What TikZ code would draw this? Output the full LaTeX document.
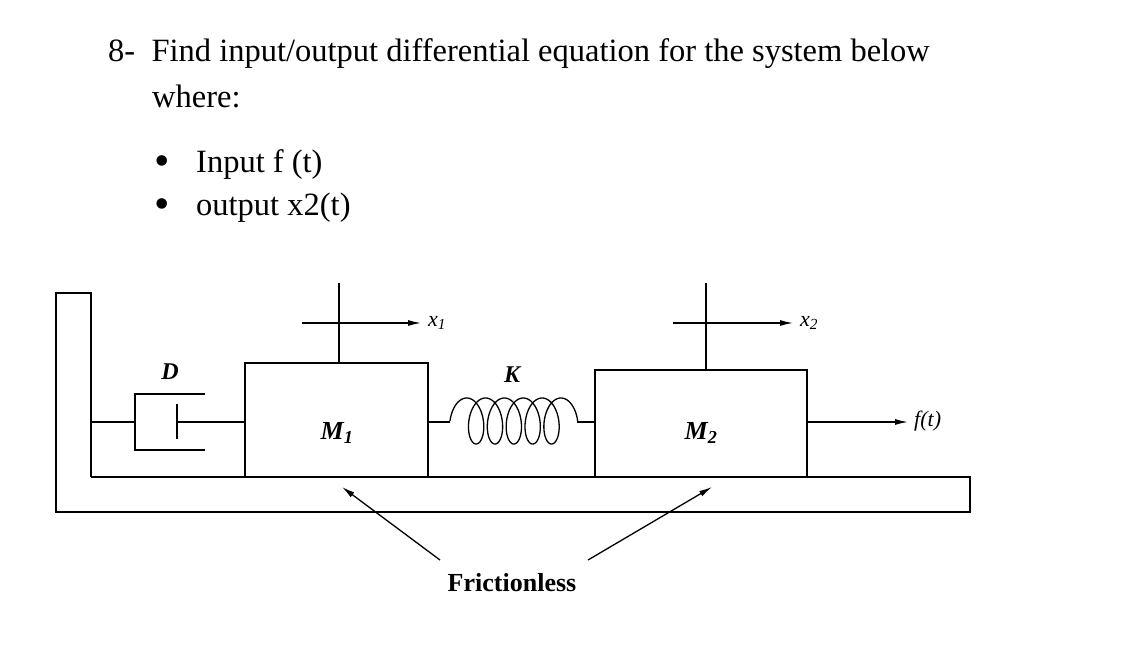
\documentclass[tikz,border=0pt]{standalone}
\usepackage{fontspec}
\setmainfont{Liberation Serif}
\usetikzlibrary{arrows.meta}
\begin{document}
\begin{tikzpicture}[x=1pt,y=-1pt,
  ln/.style={line width=1.8pt},
  thin/.style={line width=1.3pt},
  arr/.style={line width=1.3pt,-{Latex[length=13pt,width=6pt]}},
  big/.style={font=\fontsize{32.5}{38}\selectfont,anchor=base west,inner sep=0},
  lab/.style={font=\fontsize{22}{26}\selectfont,inner sep=0}]
\useasboundingbox (0,0) rectangle (1122,672);
% text
\node[big] (t1) at (108,61) {8-\ \ Find input/output differential equation for the system below};
\node[big] (t2) at (152,107) {where:};
\node[big,font=\fontsize{44}{44}\selectfont] (b1) at (154,175) {•};
\node[big] (t3) at (196,172) {Input f (t)};
\node[big,font=\fontsize{44}{44}\selectfont] (b2) at (154,218) {•};
\node[big] (t4) at (196,215) {output x2(t)};
% wall and base
\draw[ln] (91,477) -- (91,293) -- (56,293) -- (56,512) -- (970,512) -- (970,477) -- (91,477);
% damper
\draw[thin] (91,422) -- (135,422);
\draw[ln] (205,394) -- (135,394) -- (135,450) -- (205,450);
\draw[ln] (177,404) -- (177,439);
\draw[thin] (177,422) -- (245,422);
% masses
\node[draw,ln,minimum width=183,minimum height=114,inner sep=0] (m1) at (336.5,420) {};
\node[lab,font=\fontsize{26}{30}\selectfont\itshape\bfseries] (m1l) at (337,433) {M\textsubscript{1}};
\node[draw,ln,minimum width=212,minimum height=107,inner sep=0] (m2) at (701,423.5) {};
\node[lab,font=\fontsize{26}{30}\selectfont\itshape\bfseries] (m2l) at (701,433) {M\textsubscript{2}};
\node[lab,font=\fontsize{24}{28}\selectfont\itshape\bfseries] (dl) at (170,372) {D};
\node[lab,font=\fontsize{24}{28}\selectfont\itshape\bfseries] (kl) at (512,375) {K};
% spring
\draw[thin] (m1.east |- 0,422) -- (450,422);
\draw[thin] plot[domain=-90:1890,samples=600,smooth] ({466.7+3.0*rad(\x)+12*sin(\x)},{421-23*cos(\x)});
\draw[thin] (577,422) -- (m2.west |- 0,422);
% displacement markers
\coordinate (s1) at (339,283);
\draw[thin] (s1) -- (m1.north -| s1);
\coordinate (a1) at (302,323);
\coordinate (e1) at (421,323);
\draw[arr] (a1) -- (e1);
\node[lab,font=\fontsize{22}{26}\selectfont\itshape,anchor=west] (x1) at (428,323) {x\textsubscript{1}};
\coordinate (s2) at (706,283);
\draw[thin] (s2) -- (m2.north -| s2);
\coordinate (a2) at (673,323);
\coordinate (e2) at (793,323);
\draw[arr] (a2) -- (e2);
\node[lab,font=\fontsize{22}{26}\selectfont\itshape,anchor=west] (x2) at (800,323) {x\textsubscript{2}};
% force
\coordinate (f1) at (908,422);
\draw[arr] (m2.east |- 0,422) -- (f1);
\node[lab,font=\fontsize{22}{26}\selectfont\itshape,anchor=west] (fl) at (914,421) {f(t)};
% frictionless
\node[lab,font=\fontsize{26}{30}\selectfont\bfseries] (fr) at (512,583) {Frictionless};
\coordinate (p1) at (342,487);
\coordinate (p2) at (712,487);
\draw[arr] (440,560) -- (p1);
\draw[arr] (588,560) -- (p2);
\end{tikzpicture}
\end{document}
